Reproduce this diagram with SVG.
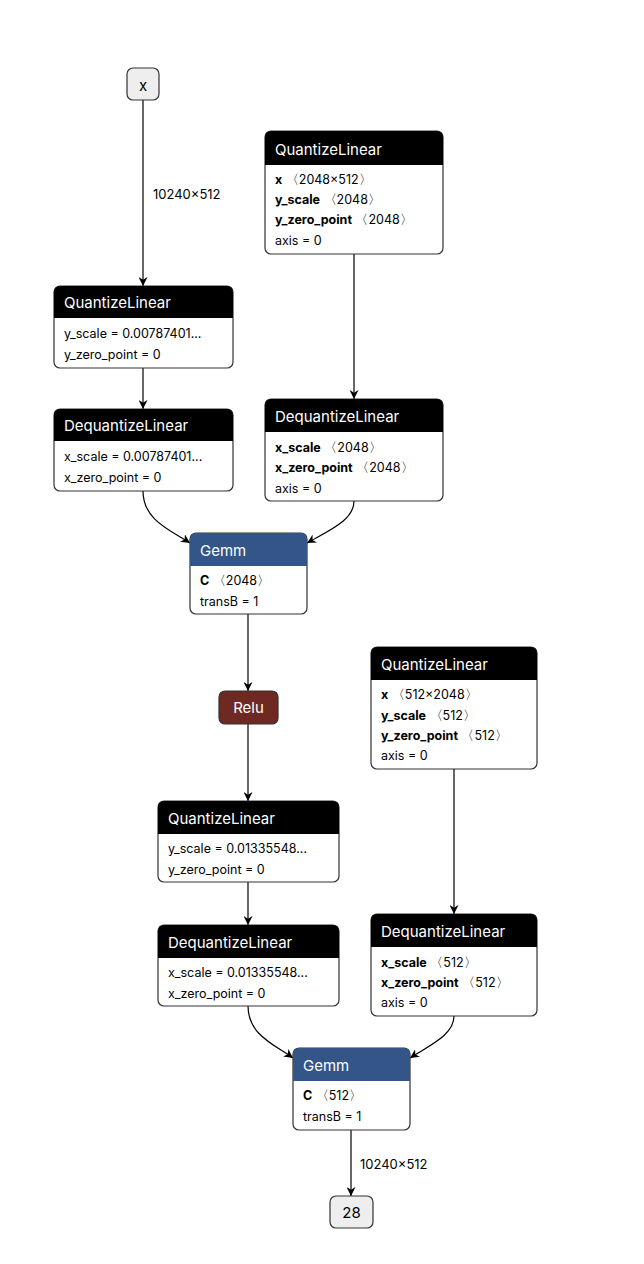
<svg xmlns="http://www.w3.org/2000/svg" width="644" height="1264" viewBox="0 0 644 1264">
<style>
text{font-family:Inter,"Noto Sans",sans-serif}
.b{fill:#fff;stroke:#333;stroke-width:1.2}
.h{font-size:15px;fill:#fff}
.a{font-size:12.5px;fill:#000}
.k{font-weight:bold}
.e{fill:none;stroke:#000;stroke-width:1.2;marker-end:url(#ar)}
.io{fill:#eee;stroke:#333;stroke-width:1.2}
.l{font-size:13px}
</style>
<defs>
<marker id="ar" viewBox="0 0 10 10" refX="10" refY="5" markerWidth="9" markerHeight="9" markerUnits="userSpaceOnUse" orient="auto"><path d="M0,0 L10,5 L0,10 L3,5 Z" fill="#000"/></marker>
</defs>
<g id="edges">
<path class="e" d="M143,100 V286"/>
<text class="l" x="153" y="199">10240×512</text>
<path class="e" d="M143,368 V409"/>
<path class="e" d="M354,254 V399"/>
<path class="e" d="M143,491 C143,520 170,530 190,543"/>
<path class="e" d="M354,501 C354,520 330,530 307,543"/>
<path class="e" d="M248,614 V691"/>
<path class="e" d="M248,724 V801"/>
<path class="e" d="M248,882 V925"/>
<path class="e" d="M454,769 V914"/>
<path class="e" d="M248,1006 C248,1035 275,1045 293,1058"/>
<path class="e" d="M454,1016 C454,1035 430,1045 410,1058"/>
<path class="e" d="M351,1130 V1196"/>
<text class="l" x="360" y="1169">10240×512</text>
</g>
<g id="x"><rect class="io" x="127" y="68" width="32" height="32" rx="6"/><text x="143" y="91" font-size="15" text-anchor="middle">x</text></g>
<g id="q1"><rect class="b" x="54" y="286" width="179" height="82" rx="6"/><path d="M54,318 V292 a6,6 0 0 1 6,-6 H227 a6,6 0 0 1 6,6 V318 Z" fill="#000"/><text class="h" x="64" y="308">QuantizeLinear</text><text class="a" x="64" y="338">y_scale = 0.00787401...</text><text class="a" x="64" y="359">y_zero_point = 0</text></g>
<g id="dq1"><rect class="b" x="54" y="409" width="179" height="82" rx="6"/><path d="M54,441 V415 a6,6 0 0 1 6,-6 H227 a6,6 0 0 1 6,6 V441 Z" fill="#000"/><text class="h" x="64" y="431">DequantizeLinear</text><text class="a" x="64" y="461">x_scale = 0.00787401...</text><text class="a" x="64" y="482">x_zero_point = 0</text></g>
<g id="qw1"><rect class="b" x="265" y="131" width="178" height="123" rx="6"/><path d="M265,165 V137 a6,6 0 0 1 6,-6 H437 a6,6 0 0 1 6,6 V165 Z" fill="#000"/><text class="h" x="275" y="155">QuantizeLinear</text><text class="a" x="275" y="184"><tspan class="k">x</tspan> 〈2048×512〉</text><text class="a" x="275" y="204"><tspan class="k">y_scale</tspan> 〈2048〉</text><text class="a" x="275" y="224"><tspan class="k">y_zero_point</tspan> 〈2048〉</text><text class="a" x="275" y="245">axis = 0</text></g>
<g id="dqw1"><rect class="b" x="265" y="399" width="178" height="102" rx="6"/><path d="M265,432 V405 a6,6 0 0 1 6,-6 H437 a6,6 0 0 1 6,6 V432 Z" fill="#000"/><text class="h" x="275" y="422">DequantizeLinear</text><text class="a" x="275" y="452"><tspan class="k">x_scale</tspan> 〈2048〉</text><text class="a" x="275" y="472"><tspan class="k">x_zero_point</tspan> 〈2048〉</text><text class="a" x="275" y="493">axis = 0</text></g>
<g id="gemm1"><rect class="b" x="190" y="533" width="117" height="81" rx="6"/><path d="M190,566 V539 a6,6 0 0 1 6,-6 H301 a6,6 0 0 1 6,6 V566 Z" fill="#335588"/><text class="h" x="200" y="556">Gemm</text><text class="a" x="200" y="585"><tspan class="k">C</tspan> 〈2048〉</text><text class="a" x="200" y="606">transB = 1</text></g>
<g id="relu"><rect x="219" y="691" width="59" height="33" rx="6" fill="#6e2922" stroke="#333" stroke-width="1.2"/><text class="h" x="248.5" y="713" text-anchor="middle">Relu</text></g>
<g id="q2"><rect class="b" x="158" y="801" width="181" height="81" rx="6"/><path d="M158,834 V807 a6,6 0 0 1 6,-6 H333 a6,6 0 0 1 6,6 V834 Z" fill="#000"/><text class="h" x="168" y="824">QuantizeLinear</text><text class="a" x="168" y="853">y_scale = 0.01335548...</text><text class="a" x="168" y="874">y_zero_point = 0</text></g>
<g id="dq2"><rect class="b" x="158" y="925" width="181" height="81" rx="6"/><path d="M158,958 V931 a6,6 0 0 1 6,-6 H333 a6,6 0 0 1 6,6 V958 Z" fill="#000"/><text class="h" x="168" y="948">DequantizeLinear</text><text class="a" x="168" y="977">x_scale = 0.01335548...</text><text class="a" x="168" y="998">x_zero_point = 0</text></g>
<g id="qw2"><rect class="b" x="371" y="647" width="166" height="122" rx="6"/><path d="M371,680 V653 a6,6 0 0 1 6,-6 H531 a6,6 0 0 1 6,6 V680 Z" fill="#000"/><text class="h" x="381" y="670">QuantizeLinear</text><text class="a" x="381" y="699"><tspan class="k">x</tspan> 〈512×2048〉</text><text class="a" x="381" y="720"><tspan class="k">y_scale</tspan> 〈512〉</text><text class="a" x="381" y="740"><tspan class="k">y_zero_point</tspan> 〈512〉</text><text class="a" x="381" y="760">axis = 0</text></g>
<g id="dqw2"><rect class="b" x="371" y="914" width="166" height="102" rx="6"/><path d="M371,947 V920 a6,6 0 0 1 6,-6 H531 a6,6 0 0 1 6,6 V947 Z" fill="#000"/><text class="h" x="381" y="937">DequantizeLinear</text><text class="a" x="381" y="967"><tspan class="k">x_scale</tspan> 〈512〉</text><text class="a" x="381" y="987"><tspan class="k">x_zero_point</tspan> 〈512〉</text><text class="a" x="381" y="1007">axis = 0</text></g>
<g id="gemm2"><rect class="b" x="293" y="1048" width="117" height="82" rx="6"/><path d="M293,1081 V1054 a6,6 0 0 1 6,-6 H404 a6,6 0 0 1 6,6 V1081 Z" fill="#335588"/><text class="h" x="303" y="1071">Gemm</text><text class="a" x="303" y="1100"><tspan class="k">C</tspan> 〈512〉</text><text class="a" x="303" y="1121">transB = 1</text></g>
<g id="out"><rect class="io" x="330" y="1196" width="43" height="32" rx="6"/><text x="351.5" y="1218" font-size="15" text-anchor="middle">28</text></g>
</svg>
